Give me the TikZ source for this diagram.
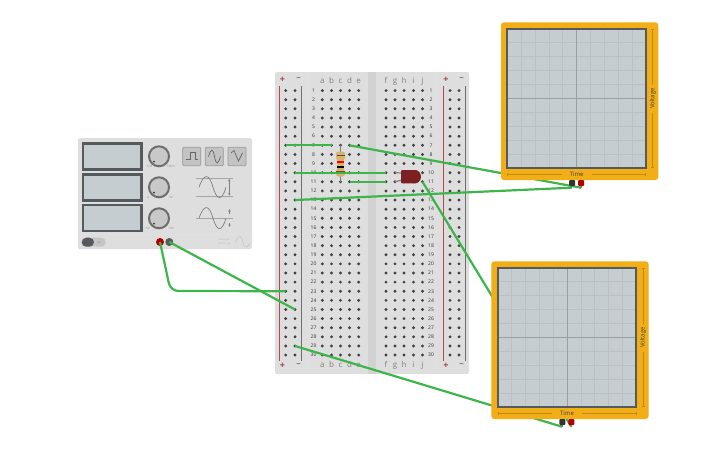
\documentclass[tikz,border=0pt]{standalone}
\usepackage{fontspec}
\usetikzlibrary{arrows.meta}
\setmainfont{Open Sans}
\definecolor{boardgray}{HTML}{DEDEDE}
\definecolor{gapgray}{HTML}{D2D2D2}
\definecolor{railred}{HTML}{B5484A}
\definecolor{raildark}{HTML}{6E6E6E}
\definecolor{wiregreen}{HTML}{3DB54A}
\definecolor{lcdgray}{HTML}{C5CDD0}
\definecolor{lcdedge}{HTML}{555B5C}
\definecolor{scopeorange}{HTML}{F2AE17}
\definecolor{scopebrown}{HTML}{C08A14}
\definecolor{ledred}{HTML}{7B2023}
\definecolor{restan}{HTML}{D9B36C}
\tikzset{
  wire/.style={wiregreen,line width=2.2pt},
  lcd/.style={fill=lcdgray,draw=lcdedge,line width=2.4pt},
  knob/.style={circle,draw=raildark,line width=2pt,fill=boardgray!90!black,minimum size=20pt,inner sep=0pt},
  wavebtn/.style={draw=gray!80,fill=boardgray!88!black,rounded corners=1pt,line width=0.7pt},
  icon/.style={draw=gray,line width=0.7pt},
  tipline/.style={draw=gray,line width=0.6pt,-{Latex[length=2.5pt,width=2.5pt]}},
  rowlabel/.style={font=\fontsize{5}{6}\selectfont,text=black!80},
  collabel/.style={font=\fontsize{8}{9}\selectfont,text=black!50,text height=5.5pt,text depth=1.5pt,inner sep=0pt},
  signlabel/.style={font=\bfseries\fontsize{9}{9}\selectfont,inner sep=0pt},
  tinylabel/.style={font=\fontsize{3}{4}\selectfont,text=black!45},
  axislabel/.style={font=\fontsize{6}{7}\selectfont,text=black!75},
  axisline/.style={scopebrown,line width=0.7pt},
  gridline/.style={lcdgray!94!black,line width=0.6pt}
}
\begin{document}
\begin{tikzpicture}[x=1pt,y=-1pt]
  \useasboundingbox (0,0) rectangle (725,453);
  % breadboard
  \fill[boardgray,rounded corners=2pt] (275,72) rectangle (469,374);
  \fill[gapgray] (368,72) rectangle (376,374);
  \draw[white!88!black,line width=0.8pt] (308,72) -- (308,374) (436,72) -- (436,374);
  \draw[railred,line width=1pt] (279,86) -- (279,361) (443.5,86) -- (443.5,361);
  \draw[raildark,line width=1pt] (301,86) -- (301,361) (465,86) -- (465,361);
  \foreach \c/\x in {a/322.3,b/331.5,c/340.5,d/349.5,e/358.7,f/386,g/395,h/404,i/413.5,j/422.5,p/285.7,n/295,q/450,m/459}
    \foreach \r in {1,...,30}
      \coordinate (\c\r) at (\x,{90.6+(\r-1)*9.12});
  \foreach \c in {a,b,c,d,e,f,g,h,i,j,p,n,q,m}
    \foreach \r in {1,...,30}
      \fill[black!75] (\c\r) circle (1.6);
  % row numbers
  \foreach \r in {1,...,30} {
    \node[rowlabel] (ll\r) at (313.5,{90.6+(\r-1)*9.12}) {\r};
    \node[rowlabel] (rl\r) at (431,{90.6+(\r-1)*9.12}) {\r};
  }
  \foreach \c/\x in {a/322.3,b/331.5,c/340.5,d/349.5,e/358.7,f/386,g/395,h/404,i/413.5,j/422.5} {
    \node[collabel] (top\c) at (\x,81) {\c};
    \node[collabel] (bot\c) at (\x,365) {\c};
  }
  \foreach \x/\y/\s in {282.5/80/a,282.5/365.5/b,446/80/c,446/365.5/d} {
    \node[signlabel,text=railred!90!black] (plus\s) at (\x,\y) {+};
  }
  \foreach \x/\y/\s in {298.5/79.5/a,298.5/365/b,461.5/79.5/c,461.5/365/d} {
    \node[signlabel,text=black!50] (minus\s) at (\x,\y) {--};
  }
  % resistor
  \draw[gray,line width=1.2pt] (c7) -- (c11);
  \fill[restan,rounded corners=2.5pt] (336,151.5) rectangle (345,160);
  \fill[restan,rounded corners=2.5pt] (336,169) rectangle (345,176.5);
  \fill[restan] (337.3,158) rectangle (343.7,171);
  \fill[black!70] (336.5,154.6) rectangle (344.5,155.6);
  \fill[red] (337.3,161) rectangle (343.7,163);
  \fill[black] (337.3,165.7) rectangle (343.7,167.7);
  \fill[brown!60!black] (336,171) rectangle (345,172.8);
  % generator
  \fill[boardgray,rounded corners=1.5pt] (78,138) rectangle (252,249);
  \draw[white!88!black,line width=0.6pt] (78,234) -- (252,234);
  \foreach \n/\y in {1/143.5,2/174.5,3/205}
    \draw[lcd] (83,\y) rectangle (141.5,{\y+25.8});
  \foreach \n/\y in {1/156.3,2/187.3,3/218.3} {
    \node[knob] (knob\n) at (159,\y) {};
    \fill[black!80] (154,{\y+5.3}) circle (1);
  }
  \node[tinylabel] (f1) at (149.5,166.5) {1Hz};
  \node[tinylabel] (f2) at (171,166.5) {1MHz};
  \node[tinylabel] (a1) at (148,197.5) {0};
  \node[tinylabel] (a2) at (171,197.5) {5V};
  \node[tinylabel] (o1) at (147.5,228.5) {-5V};
  \node[tinylabel] (o2) at (171,228.5) {+5V};
  \foreach \x in {182.7,205.3,228}
    \draw[wavebtn] (\x,147.3) rectangle ++(18,18.4);
  \draw[icon,black!60] (186,159.5) -| (190.5,152.5) -| (195.5,159.5) -- (198,159.5);
  \draw[icon,black!60] (208.5,156.5) .. controls (211,148) and (213,148) .. (214.5,156.5) .. controls (216,165) and (218,165) .. (220.5,156.5);
  \draw[icon,black!60] (231,153) -- (234,150.5) -- (238.5,161) -- (242.5,153);
  % amplitude and offset icons
  \draw[icon,gray!70] (195.7,178.3) -- (232.7,178.3) (195.7,196.3) -- (232.7,196.3);
  \draw[icon] (199,187.3) .. controls (204,173) and (209,173) .. (213,187.3) .. controls (217,201) and (222,201) .. (226,187.3);
  \draw[tipline] (229.3,187.3) -- (229.3,178.8);
  \draw[tipline] (229.3,187.3) -- (229.3,195.8);
  \draw[icon,gray!70] (196,218.3) -- (232.7,218.3);
  \draw[icon] (199,218.3) .. controls (204,204) and (209,204) .. (213,218.3) .. controls (217,232) and (222,232) .. (226,218.3);
  \draw[tipline] (229.5,214) -- (229.5,209);
  \draw[tipline] (229.5,222.5) -- (229.5,227);
  % switch
  \fill[gray!45,rounded corners=4.5pt] (81.7,237.7) rectangle (105.7,246.7);
  \fill[lcdedge,rounded corners=4.5pt] (81.7,237.7) rectangle (94,246.7);
  \node[tinylabel] (swon) at (99.5,242.2) {on};
  % logo
  \node[tinylabel,align=center,text=black!25] (logo) at (224,241.5) {energia\\electrical};
  \draw[gray!45,line width=0.6pt] (235,243) .. controls (239,234) and (241,234) .. (243,243) .. controls (245,249) and (247,248) .. (250,243);
  % terminals
  \coordinate (termR) at (160,242);
  \coordinate (termB) at (169.3,242);
  \fill[red!70!black] (termR) circle (4);
  \fill[lcdedge] (termB) circle (4);
  % probes
  \foreach \n/\dx/\dy in {1/0/0,2/-9.7/239} {
    \coordinate (probeB\n) at ({571.7+\dx},{187.7+\dy});
    \coordinate (probeR\n) at ({581+\dx},{187.7+\dy});
  }
  % led
  \draw[gray,line width=1.2pt] (g10) -- (402,173) (g11) -- (402,180);
  \fill[ledred,rounded corners=1pt] (401,170) -- (414.3,170) arc (-90:90:6.7) -- (401,183.4) -- cycle;
  % wires
  \draw[wire] (p7) -- (b7);
  \draw[wire] (d7) -- (probeR1);
  \draw[wire] (n10) -- (f10);
  \draw[wire] (d11) -- (f11);
  \draw[wire] (n13) -- (probeB1);
  \draw[wire] (j11) -- (probeR2);
  \draw[wire] (n29) -- (probeB2);
  \coordinate (bendG) at (170.5,291);
  \draw[wire,rounded corners=8pt] (termR) -- (bendG) -- (p23);
  \draw[wire] (termB) -- (n25);
  % oscilloscopes
  \foreach \n/\dx/\dy in {1/0/0,2/-9.7/239} {
    \begin{scope}[shift={(\dx,\dy)}]
      \fill[scopeorange,rounded corners=3pt] (501,22.3) rectangle (658.3,180);
      \fill[lcdgray] (507.3,28.7) rectangle (646,167.7);
      \foreach \i in {1,...,9} {
        \draw[gridline] ({507.3+\i*13.87},28.7) -- ({507.3+\i*13.87},167.7);
        \draw[gridline] (507.3,{28.7+\i*13.9}) -- (646,{28.7+\i*13.9});
      }
      \draw[lcdgray!78!black,line width=0.7pt] (576.65,28.7) -- (576.65,167.7) (507.3,98.2) -- (646,98.2);
      \draw[lcdedge,line width=2pt] (507.3,28.7) rectangle (646,167.7);
      \draw[axisline,{Bar[width=3pt]}-] (507.3,174.3) -- (561.7,174.3);
      \draw[axisline,-{Bar[width=3pt]}] (591.7,174.3) -- (646,174.3);
      \draw[axisline,{Bar[width=3pt]}-] (652.7,29) -- (652.7,85);
      \draw[axisline,-{Bar[width=3pt]}] (652.7,113) -- (652.7,167.7);
      \node[axislabel] (time\n) at (576.7,174) {Time};
      \node[axislabel,rotate=90] (volt\n) at (652.7,98.5) {Voltage};
      \draw[gray,line width=1.4pt] (probeB\n) -- ++(0,-4) (probeR\n) -- ++(0,-4);
      \fill[black!80,rounded corners=1pt] (569,180) rectangle (575,186);
      \fill[red!70!black,rounded corners=1pt] (578,180) rectangle (584,186);
    \end{scope}
  }
\end{tikzpicture}
\end{document}
